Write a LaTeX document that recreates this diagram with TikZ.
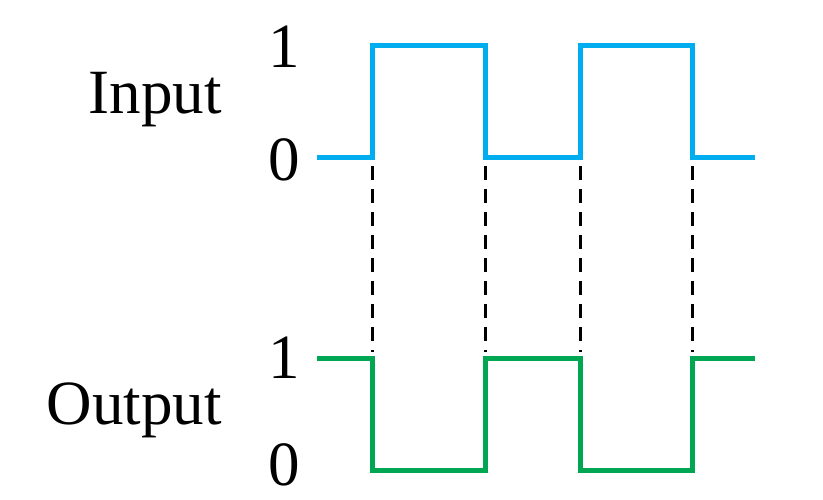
\documentclass[tikz,border=0pt]{standalone}
\usepackage{fontspec}
\setmainfont{Liberation Serif}
\definecolor{cyanw}{RGB}{0,174,239}
\definecolor{greenw}{RGB}{0,166,81}
\begin{document}
\begin{tikzpicture}[x=1pt,y=-1pt,
  lab/.style={font=\fontsize{63}{63}\selectfont,inner sep=0pt},
  wave/.style={line width=5pt,line join=miter},
  guide/.style={line width=3pt,dash pattern=on 14pt off 9pt}]
\useasboundingbox (0,0) rectangle (823,499);
\node[lab,anchor=east] (in1) at (300,47) {1};
\node[lab,anchor=east] (in0) at (300,160) {0};
\node[lab,anchor=east] (inl) at (222,100) {Input};
\node[lab,anchor=east] (out1) at (300,358) {1};
\node[lab,anchor=east] (out0) at (300,465) {0};
\node[lab,anchor=east] (outl) at (222,410) {Output};
\draw[wave,cyanw] (317,157) -- (372,157) -- (372,45) -- (485,45) -- (485,157) -- (580,157) -- (580,45) -- (692,45) -- (692,157) -- (755,157);
\draw[wave,greenw] (317,358) -- (372,358) -- (372,470) -- (485,470) -- (485,358) -- (580,358) -- (580,470) -- (692,470) -- (692,358) -- (755,358);
\foreach \x in {372,485,580,692} \draw[guide] (\x,166) -- (\x,352);
\end{tikzpicture}
\end{document}
